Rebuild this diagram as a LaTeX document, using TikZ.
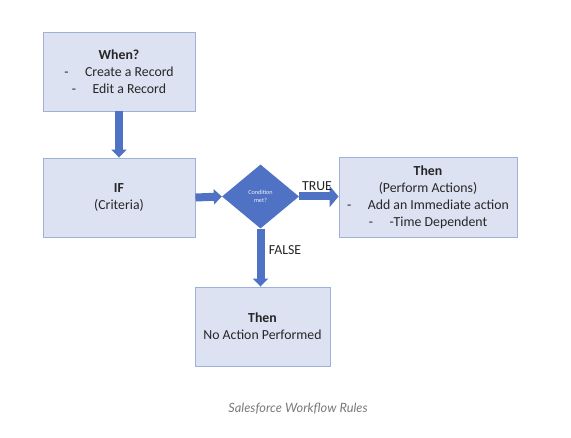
\documentclass[tikz,border=0pt]{standalone}
\usepackage{fontspec}
\setmainfont{Carlito}
\newfontfamily\capfont{Lato}
\usetikzlibrary{arrows.meta,shapes.geometric}
\definecolor{boxfill}{HTML}{DCE2F2}
\definecolor{boxline}{HTML}{9DB1DB}
\definecolor{accent}{HTML}{4F72C4}
\definecolor{capgray}{HTML}{7A7A7A}
\begin{document}
\begin{tikzpicture}[x=1pt,y=-1pt,
  box/.style={draw=boxline, line width=0.9pt, fill=boxfill, inner sep=0pt,
    align=center, font=\fontsize{13.8pt}{17pt}\selectfont, text=black!85},
  arr/.style={draw=accent, line width=8pt,
    -{Triangle[width=15pt,length=8pt]}},
  lbl/.style={font=\fontsize{13.8pt}{15pt}\selectfont, text=black!85}
]
\useasboundingbox (0,0) rectangle (571,438);
\fill[white] (0,0) rectangle (571,438);
\node[box, minimum width=152pt, minimum height=79pt] (when) at (119,71.5)
  {\textbf{When?}\\-\hspace{1.2em}Create a Record\\-\hspace{1.2em}Edit a Record};
\node[box, minimum width=152pt, minimum height=79pt] (if) at (119,197.5)
  {\textbf{IF}\\(Criteria)};
\node[diamond, fill=accent, inner sep=0pt, minimum width=77pt, minimum height=64pt,
  align=center, font=\fontsize{6.2pt}{8pt}\selectfont, text=white!90!accent] (dia) at (260.5,196.5)
  {Condition\\met?};
\node[box, minimum width=178pt, minimum height=80pt] (then) at (428,197.5)
  {\textbf{Then}\\(Perform Actions)\\-\hspace{1.2em}Add an Immediate action\\-\hspace{1.2em}-Time Dependent};
\node[box, minimum width=135pt, minimum height=79pt] (none) at (262.5,326.5)
  {\textbf{Then}\\No Action Performed};
\draw[arr] (when.south) -- (if.north);
\draw[arr] (if.east) -- (dia.west);
\draw[arr, -{Triangle[width=21pt,length=9pt]}] (dia.east) -- (then.west |- dia.east);
\draw[arr] (dia.south) -- (dia.south |- none.north);
\node[lbl] (ltrue) at (317,186) {TRUE};
\node[lbl] (lfalse) at (285,250) {FALSE};
\node[font=\capfont\itshape\fontsize{12.8pt}{14pt}\selectfont, text=capgray] (cap) at (298,409)
  {Salesforce Workflow Rules};
\end{tikzpicture}
\end{document}
